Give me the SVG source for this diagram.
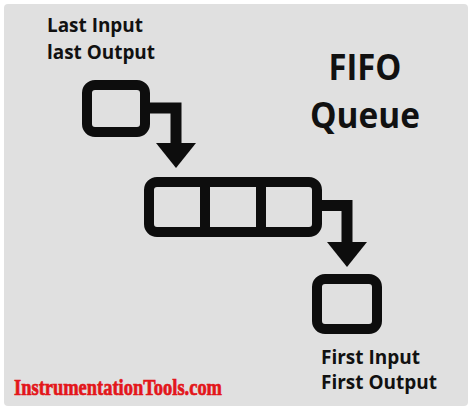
<svg xmlns="http://www.w3.org/2000/svg" width="474" height="412" viewBox="0 0 474 412">
  <style>
    .box { fill: none; stroke: #0d0d0d; stroke-width: 10; }
    .conn { fill: none; stroke: #0d0d0d; stroke-width: 11; stroke-linejoin: miter; }
    .head { fill: #0d0d0d; }
    .lbl { font-family: "Open Sans", "Noto Sans", sans-serif; font-weight: bold; fill: #111; font-size: 19px; }
    .title { font-family: "Open Sans", "Noto Sans", sans-serif; font-weight: bold; fill: #111; font-size: 35px; text-anchor: middle; }
    .brand { font-family: "Liberation Serif", serif; font-weight: bold; fill: #e3161b; stroke: #e3161b; stroke-width: 0.7; font-size: 23px; }
  </style>
  <rect x="0" y="0" width="474" height="412" fill="#ffffff"/>
  <rect x="4" y="4" width="464" height="402" rx="4" fill="#e0e0e0"/>

  <g id="connectors">
    <path class="conn" d="M148,108 H176 V145"/>
    <polygon class="head" points="156,143 196,143 176,168"/>
    <path class="conn" d="M320,205.5 H347 V244"/>
    <polygon class="head" points="327,242 367,242 347,267"/>
  </g>

  <g id="last-node">
    <rect class="box" x="87" y="85" width="58" height="47" rx="8"/>
  </g>

  <g id="queue">
    <rect class="box" x="149" y="182" width="168" height="50" rx="8"/>
    <line class="box" x1="205" y1="182" x2="205" y2="232"/>
    <line class="box" x1="261" y1="182" x2="261" y2="232"/>
  </g>

  <g id="first-node">
    <rect class="box" x="317" y="279" width="60" height="50" rx="8"/>
  </g>

  <g id="labels">
    <text class="lbl" x="47" y="32" textLength="96" lengthAdjust="spacingAndGlyphs">Last Input</text>
    <text class="lbl" x="47" y="59" textLength="108" lengthAdjust="spacingAndGlyphs">last Output</text>
    <text class="title" x="365" y="80" textLength="73" lengthAdjust="spacingAndGlyphs">FIFO</text>
    <text class="title" x="365" y="128" textLength="110" lengthAdjust="spacingAndGlyphs">Queue</text>
    <text class="lbl" x="321" y="364" textLength="99" lengthAdjust="spacingAndGlyphs">First Input</text>
    <text class="lbl" x="321" y="389" textLength="116" lengthAdjust="spacingAndGlyphs">First Output</text>
    <text class="brand" x="14" y="395" textLength="208" lengthAdjust="spacingAndGlyphs">InstrumentationTools.com</text>
  </g>
</svg>
